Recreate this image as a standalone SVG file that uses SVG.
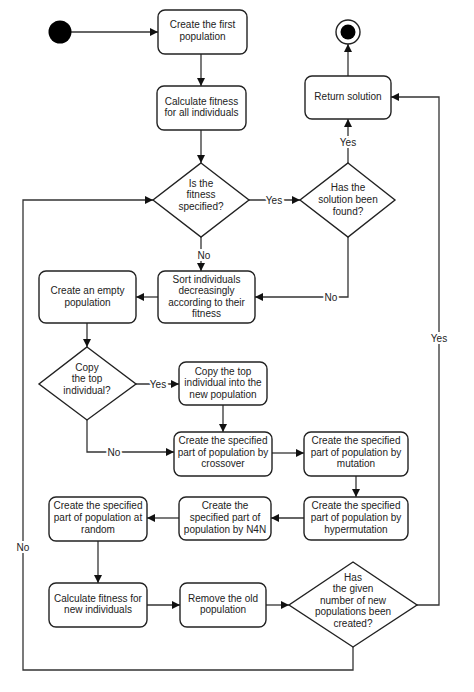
<svg xmlns="http://www.w3.org/2000/svg" width="474" height="692" viewBox="0 0 474 692">
<defs>
<marker id="arr" viewBox="0 0 10 10" refX="10" refY="5" markerWidth="8" markerHeight="8" markerUnits="userSpaceOnUse" orient="auto">
<path d="M0,0 L10,5 L0,10 z" fill="#111"/>
</marker>
<style>
.n rect, .n polygon { fill:#fff; stroke:#222; stroke-width:1.4; }
.n text, .lbl { font-family:"Liberation Sans", Arial, sans-serif; font-size:10px; fill:#222; text-anchor:middle; }
.c path { fill:none; stroke:#333; stroke-width:1.3; marker-end:url(#arr); }
.lbl { paint-order:stroke; stroke:#fff; stroke-width:4px; dominant-baseline:central; }
</style>
</defs>
<rect width="474" height="692" fill="#fff"/>

<g id="connectors" class="c">
<path d="M71,32 H158"/>
<path d="M201,54 V86"/>
<path d="M201,130 V163"/>
<path d="M249,200 H300"/>
<path d="M348,163 V119"/>
<path d="M348,76 V44"/>
<path d="M348,237 V297 H255"/>
<path d="M201,237 V271"/>
<path d="M158,297 H136"/>
<path d="M87,323 V347"/>
<path d="M136,384 H179"/>
<path d="M223,405 V432"/>
<path d="M87,420 V452 H174"/>
<path d="M272,453 H304"/>
<path d="M356,476 V497"/>
<path d="M304,518 H271"/>
<path d="M179,518 H147"/>
<path d="M98,541 V583"/>
<path d="M147,605 H180"/>
<path d="M266,605 H289"/>
<path d="M417,605 H439 V97 H391"/>
<path d="M353,647 V670 H23 V200 H153"/>
</g>
<g id="labels">
<text class="lbl" x="274" y="200">Yes</text>
<text class="lbl" x="348" y="142">Yes</text>
<text class="lbl" x="331" y="297">No</text>
<text class="lbl" x="204" y="255">No</text>
<text class="lbl" x="158" y="384">Yes</text>
<text class="lbl" x="114" y="452">No</text>
<text class="lbl" x="439" y="338">Yes</text>
<text class="lbl" x="23" y="547">No</text>
</g>

<g id="start"><circle cx="60" cy="32" r="11.5" fill="#000"/></g>
<g id="end"><circle cx="348" cy="32" r="12" fill="#fff" stroke="#222" stroke-width="1.4"/><circle cx="348" cy="32" r="7.5" fill="#000"/></g>

<g id="create-first" class="n"><rect x="158" y="10" width="89" height="44" rx="7"/>
<text x="202.5" y="28">Create the first</text><text x="202.5" y="40">population</text></g>

<g id="calc-all" class="n"><rect x="157" y="86" width="89" height="44" rx="7"/>
<text x="201.5" y="104.5">Calculate fitness</text><text x="201.5" y="116">for all individuals</text></g>

<g id="is-fitness" class="n"><polygon points="201,163 249,200 201,237 153,200"/>
<text x="201" y="186.5">Is the</text><text x="201" y="198">fitness</text><text x="201" y="209.5">specified?</text></g>

<g id="solution-found" class="n"><polygon points="348,163 395,200 348,237 300,200"/>
<text x="348" y="191">Has the</text><text x="348" y="203">solution been</text><text x="348" y="214.5">found?</text></g>

<g id="return" class="n"><rect x="305" y="76" width="86" height="43" rx="7"/>
<text x="348" y="100">Return solution</text></g>

<g id="sort" class="n"><rect x="158" y="271" width="97" height="52" rx="7"/>
<text x="206.5" y="282.5">Sort individuals</text><text x="206.5" y="294">decreasingly</text><text x="206.5" y="305.5">according to their</text><text x="206.5" y="317">fitness</text></g>

<g id="empty-pop" class="n"><rect x="39" y="271" width="97" height="52" rx="7"/>
<text x="87.5" y="293.5">Create an empty</text><text x="87.5" y="305.5">population</text></g>

<g id="copy-q" class="n"><polygon points="87,347 136,384 87,420 39,384"/>
<text x="87" y="370.5">Copy</text><text x="87" y="382">the top</text><text x="87" y="393.5">individual?</text></g>

<g id="copy-top" class="n"><rect x="179" y="362" width="88" height="43" rx="7"/>
<text x="223" y="374.5">Copy the top</text><text x="223" y="386">individual into the</text><text x="223" y="397.5">new population</text></g>

<g id="crossover" class="n"><rect x="174" y="432" width="98" height="44" rx="7"/>
<text x="223" y="443.5">Create the specified</text><text x="223" y="455.5">part of population by</text><text x="223" y="467">crossover</text></g>

<g id="mutation" class="n"><rect x="304" y="432" width="104" height="44" rx="7"/>
<text x="356" y="443.5">Create the specified</text><text x="356" y="455.5">part of population by</text><text x="356" y="467">mutation</text></g>

<g id="hypermutation" class="n"><rect x="304" y="497" width="104" height="43" rx="7"/>
<text x="356" y="509">Create the specified</text><text x="356" y="521">part of population by</text><text x="356" y="532.5">hypermutation</text></g>

<g id="n4n" class="n"><rect x="179" y="497" width="92" height="43" rx="7"/>
<text x="225" y="509">Create the</text><text x="225" y="521">specified part of</text><text x="225" y="532.5">population by N4N</text></g>

<g id="random" class="n"><rect x="49" y="497" width="98" height="44" rx="7"/>
<text x="98" y="509">Create the specified</text><text x="98" y="521">part of population at</text><text x="98" y="532.5">random</text></g>

<g id="calc-new" class="n"><rect x="49" y="583" width="98" height="44" rx="7"/>
<text x="98" y="601.5">Calculate fitness for</text><text x="98" y="613">new individuals</text></g>

<g id="remove-old" class="n"><rect x="180" y="583" width="86" height="44" rx="7"/>
<text x="223" y="601.5">Remove the old</text><text x="223" y="613">population</text></g>

<g id="given-number" class="n"><polygon points="353,562 417,605 353,647 289,605"/>
<text x="353" y="580.5">Has</text><text x="353" y="592">the given</text><text x="353" y="603.5">number of new</text><text x="353" y="615">populations been</text><text x="353" y="626.5">created?</text></g>
</svg>
